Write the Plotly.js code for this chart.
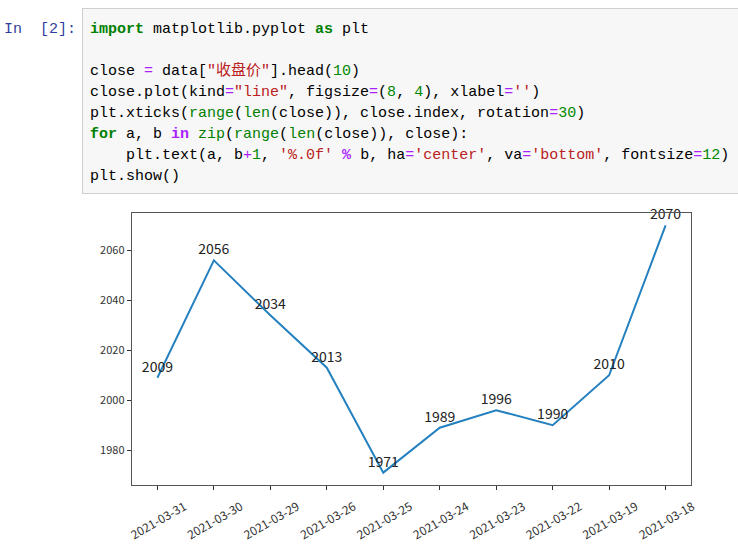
<!DOCTYPE html>
<html>
<head>
<meta charset="utf-8">
<script src="https://cdn.plot.ly/plotly-3.0.1.min.js"></script>
<style>
  html, body { margin:0; padding:0; background:#fff; width:738px; height:551px; overflow:hidden; }
  #prompt { position:absolute; left:4px; top:19px; font:15px/21px "Liberation Mono","Noto Sans CJK SC",monospace; color:#303f9f; white-space:pre; }
  #cell { position:absolute; left:82px; top:8px; width:670px; height:186px; background:#f7f7f7; border:1px solid #cfcfcf; box-sizing:border-box; }
  #code { position:absolute; left:90px; top:19px; margin:0; font:15px/21px "Liberation Mono","Noto Sans CJK SC",monospace; color:#000; }
  #code div { height:21px; white-space:pre; }
  .k { color:#008000; font-weight:bold; }
  .o { color:#aa22ff; }
  .ow { color:#aa22ff; font-weight:bold; }
  .s { color:#ba2121; }
  .n { color:#008800; }
  .b { color:#008000; }
  #chart { position:absolute; left:0; top:0; width:738px; height:551px; }
</style>
</head>
<body>
<div id="prompt"><span>In  [2]:</span></div>
<div id="cell"></div>
<div id="code">
<div><span class="k">import</span><span> matplotlib.pyplot </span><span class="k">as</span><span> plt</span></div>
<div></div>
<div><span>close </span><span class="o">=</span><span> data[</span><span class="s">"收盘价"</span><span>].head(</span><span class="n">10</span><span>)</span></div>
<div><span>close.plot(kind</span><span class="o">=</span><span class="s">"line"</span><span>, figsize</span><span class="o">=</span><span>(</span><span class="n">8</span><span>, </span><span class="n">4</span><span>), xlabel</span><span class="o">=</span><span class="s">''</span><span>)</span></div>
<div><span>plt.xticks(</span><span class="b">range</span><span>(</span><span class="b">len</span><span>(close)), close.index, rotation</span><span class="o">=</span><span class="n">30</span><span>)</span></div>
<div><span class="k">for</span><span> a, b </span><span class="ow">in</span><span> </span><span class="b">zip</span><span>(</span><span class="b">range</span><span>(</span><span class="b">len</span><span>(close)), close):</span></div>
<div><span>    plt.text(a, b</span><span class="o">+</span><span class="n">1</span><span>, </span><span class="s">'%.0f'</span><span> </span><span class="ow">%</span><span> b, ha</span><span class="o">=</span><span class="s">'center'</span><span>, va</span><span class="o">=</span><span class="s">'bottom'</span><span>, fontsize</span><span class="o">=</span><span class="n">12</span><span>)</span></div>
<div><span>plt.show()</span></div>
</div>
<div id="chart"></div>
<script>
const dates = ["2021-03-31","2021-03-30","2021-03-29","2021-03-26","2021-03-25","2021-03-24","2021-03-23","2021-03-22","2021-03-19","2021-03-18"];
const closeValues = [2009, 2056, 2034, 2013, 1971, 1989, 1996, 1990, 2010, 2070];
const yTicks = [1980, 2000, 2020, 2040, 2060];

const idx = dates.map((d, i) => i);
const minV = Math.min(...closeValues), maxV = Math.max(...closeValues);
const pad = (maxV - minV) * 0.05;
const xpad = (dates.length - 1) * 0.05;

const lineTrace = {
  x: idx, y: closeValues, type: 'scatter', mode: 'lines',
  line: { color: '#2580bf', width: 2 }, hoverinfo: 'skip', showlegend: false
};
const textTrace = {
  x: idx, y: closeValues.map(v => v + 1), type: 'scatter', mode: 'text',
  text: closeValues.map(v => v.toFixed(0)), textposition: 'top center',
  textfont: { family: '"Noto Sans CJK SC", "DejaVu Sans", sans-serif', size: 14, color: '#222' },
  cliponaxis: false, hoverinfo: 'skip', showlegend: false
};

const layout = {
  width: 738, height: 551,
  paper_bgcolor: 'rgba(0,0,0,0)', plot_bgcolor: '#fff',
  margin: { l: 132, r: 47, t: 213, b: 66, pad: 0 },
  showlegend: false,
  xaxis: {
    range: [-xpad, dates.length - 1 + xpad],
    tickmode: 'array', tickvals: idx, ticktext: dates, tickangle: -30,
    ticklabelshift: 27, ticklabelstandoff: 5,
    ticks: 'outside', ticklen: 4, tickwidth: 1, tickcolor: '#333',
    showline: true, mirror: true, linecolor: '#555', linewidth: 1.3,
    showgrid: false, zeroline: false,
    tickfont: { family: '"Noto Sans CJK SC", "DejaVu Sans", sans-serif', size: 12, color: '#333' }
  },
  yaxis: {
    range: [minV - pad, maxV + pad],
    tickmode: 'array', tickvals: yTicks, ticktext: yTicks.map(String),
    ticks: 'outside', ticklen: 4, tickwidth: 1, tickcolor: '#333',
    showline: true, mirror: true, linecolor: '#555', linewidth: 1.3,
    showgrid: false, zeroline: false,
    tickfont: { family: '"Noto Sans CJK SC", "DejaVu Sans", sans-serif', size: 11, color: '#333' }
  }
};

Plotly.newPlot('chart', [lineTrace, textTrace], layout, { staticPlot: true, displayModeBar: false });
</script>
</body>
</html>
